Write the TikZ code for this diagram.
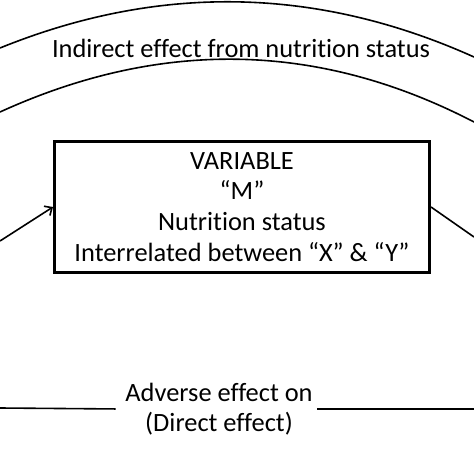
\documentclass[tikz,border=0pt]{standalone}
\usepackage{fontspec}
\setmainfont{Carlito}[Ligatures=NoCommon]
\usetikzlibrary{arrows.meta}

\begin{document}
\begin{tikzpicture}[x=1bp,y=-1bp,line width=1.6bp,
    every node/.style={font=\fontsize{26.5}{31}\selectfont,align=center}]
      % \draw[help lines](0,0) grid[step=50] (474,474);
      \useasboundingbox (0,0) rectangle (474,474);
      \clip (0,0) rectangle (474,474);

      \draw (242,207) node[draw,line width=3bp,minimum width=375bp,minimum height=131bp,inner sep=2bp] (mediator) {VARIABLE\\“M”\\Nutrition status\\Interrelated between “X” \& “Y”};
      \draw (241,48) node (indirect) {Indirect effect from nutrition status};
      \draw (219,409) node[inner sep=4bp,font=\fontsize{26.5}{30}\selectfont] (direct) {Adverse effect on\\(Direct effect)};

      \coordinate (xtop) at (0,48);
      \coordinate (ytop) at (474,57);
      \coordinate (xmid) at (0,112);
      \coordinate (ymid) at (474,122);
      \coordinate (xin) at (0,241);
      \coordinate (yout) at (474,237);
      \coordinate (xbot) at (0,408);
      \coordinate (ybot) at (474,409);

      \draw (xtop) .. controls (158,-16) and (316,-14) .. (ytop);
      \draw (xmid) .. controls (158,40) and (316,40) .. (ymid);
      \draw[-{Straight Barb[length=6bp,width=11bp]}] (xin) -- (mediator.west);
      \draw (mediator.east) -- (yout);
      \draw[shorten >=5bp] (xbot) -- (direct.west);
      \draw (direct.east) -- (ybot);
    \end{tikzpicture}
\end{document}
